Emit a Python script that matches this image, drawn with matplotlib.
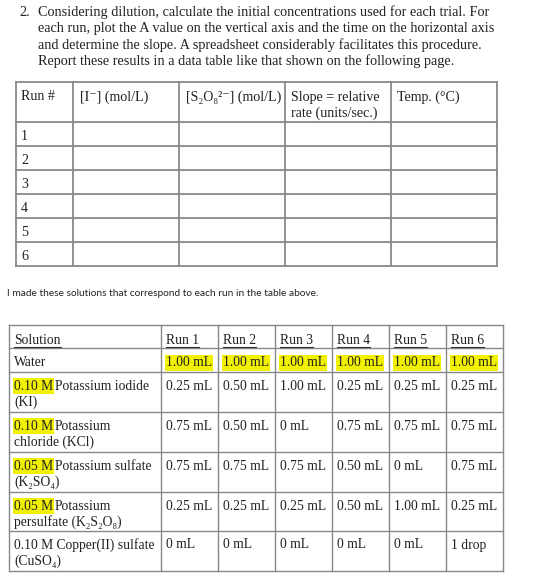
import matplotlib
matplotlib.use("Agg")
import matplotlib.pyplot as plt

para = ["Considering dilution, calculate the initial concentrations used for each trial. For",
        "each run, plot the A value on the vertical axis and the time on the horizontal axis",
        "and determine the slope. A spreadsheet considerably facilitates this procedure.",
        "Report these results in a data table like that shown on the following page."]
t1_headers = [["Run #"], ["[I⁻] (mol/L)"], ["[S₂O₈²⁻] (mol/L)"], ["Slope = relative", "rate (units/sec.)"], ["Temp. (°C)"]]
t1_runs = ["1", "2", "3", "4", "5", "6"]
note = "I made these solutions that correspond to each run in the table above."
t2_cols = ["Solution", "Run 1", "Run 2", "Run 3", "Run 4", "Run 5", "Run 6"]
t2_conc = ["", "0.10 M", "0.10 M", "0.05 M", "0.05 M", ""]
t2_names = [["Water"], ["Potassium iodide", "(KI)"], ["Potassium", "chloride (KCl)"],
            ["Potassium sulfate", "(K₂SO₄)"], ["Potassium", "persulfate (K₂S₂O₈)"],
            ["0.10 M Copper(II) sulfate", "(CuSO₄)"]]
t2_vals = [["1.00 mL"] * 6,
           ["0.25 mL", "0.50 mL", "1.00 mL", "0.25 mL", "0.25 mL", "0.25 mL"],
           ["0.75 mL", "0.50 mL", "0 mL", "0.75 mL", "0.75 mL", "0.75 mL"],
           ["0.75 mL", "0.75 mL", "0.75 mL", "0.50 mL", "0 mL", "0.75 mL"],
           ["0.25 mL", "0.25 mL", "0.25 mL", "0.50 mL", "1.00 mL", "0.25 mL"],
           ["0 mL", "0 mL", "0 mL", "0 mL", "0 mL", "1 drop"]]

SERIF = ["Liberation Serif", "DejaVu Serif"]
FS = 9.8
YEL = "#f2f200"
fig = plt.figure(figsize=(5.57, 5.87), dpi=100)
ax = fig.add_axes([0, 0, 1, 1])
ax.set_xlim(0, 557); ax.set_ylim(587, 0); ax.axis("off")
fig.canvas.draw()
r = fig.canvas.get_renderer()

def txt(x, y, s, hl=False, ul=False, fs=FS, fam=SERIF):
    kw = {}
    if hl:
        kw["bbox"] = dict(boxstyle="square,pad=0.08", fc=YEL, ec="none")
    t = ax.text(x, y, s, fontsize=fs, family=fam, va="center", ha="left", color="#222", **kw)
    w = t.get_window_extent(r).width
    if ul:
        ax.plot([x, x + w], [y + 7, y + 7], color="#333", lw=0.8)
    return w

txt(19, 12, "2.", fs=10.3)
for i, line in enumerate(para):
    txt(38, 12 + i * 16.5, line, fs=10.3)

xs1 = [16, 73, 179, 285, 391, 497]
ys1 = [82, 122, 146, 170, 194, 218, 242, 266]
for x in xs1:
    ax.plot([x, x], [ys1[0], ys1[-1]], color="#888", lw=1.3)
for y in ys1:
    ax.plot([xs1[0], xs1[-1]], [y, y], color="#888", lw=1.3)
offs = [5, 7, 7, 6, 6]
for j, h in enumerate(t1_headers):
    for k, l in enumerate(h):
        txt(xs1[j] + offs[j], 97 + 16 * k, l, fs=10.1)
for i, rn in enumerate(t1_runs):
    txt(21, ys1[i + 1] + 15, rn, fs=10.1)

txt(7, 294, note, fs=7.3, fam=["Lato", "DejaVu Sans"])

xs2 = [9, 161, 218, 275, 332, 389, 446, 503]
ys2 = [325, 348, 372, 412, 452, 492, 531, 571]
for x in xs2:
    ax.plot([x, x], [ys2[0], ys2[-1]], color="#888", lw=1.0)
for y in ys2:
    ax.plot([xs2[0], xs2[-1]], [y, y], color="#888", lw=1.0)
for j, c in enumerate(t2_cols):
    txt(xs2[j] + 5, 340, c, ul=True)
for i in range(6):
    y0 = 363 if i == 0 else ys2[i + 1] + 14
    x0 = 14
    if t2_conc[i]:
        w = txt(x0, y0, t2_conc[i], hl=True)
        x0 += w + 2
    for k, l in enumerate(t2_names[i]):
        txt(x0 if k == 0 else 14, y0 + 16.5 * k, l)
    for j, v in enumerate(t2_vals[i]):
        txt(xs2[j + 1] + 5, y0, v, hl=(i == 0))

fig.savefig("out.png", dpi=100)
